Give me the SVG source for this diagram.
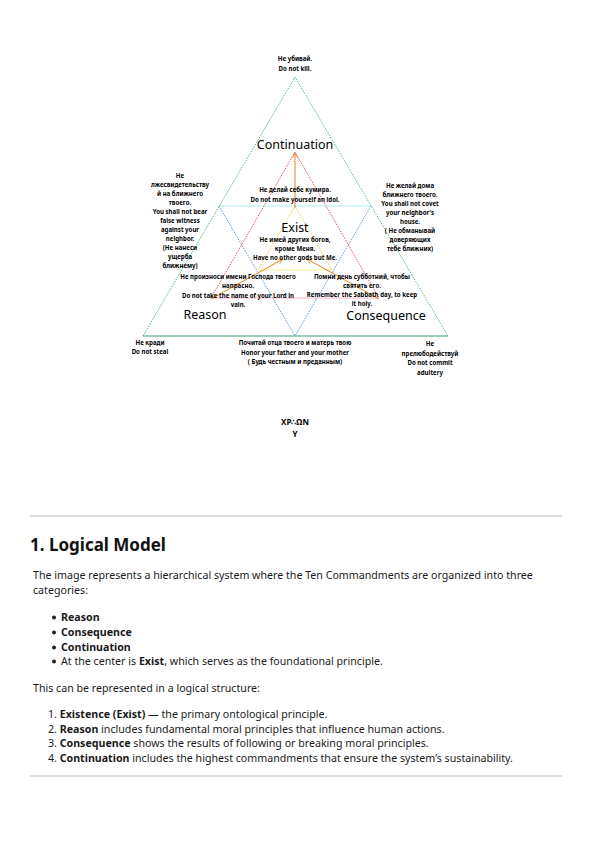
<svg xmlns="http://www.w3.org/2000/svg" width="595" height="842" viewBox="0 0 595 842">
<style>
.c{font-family:"Noto Sans","Open Sans",sans-serif;font-weight:bold;font-size:6.1px;fill:#000;text-anchor:middle}
.lab{font-family:"Noto Sans","Open Sans",sans-serif;font-size:12.5px;fill:#000;text-anchor:middle}
.doc{font-family:"Noto Sans","Open Sans",sans-serif;font-size:10.65px;fill:#1a1a1a}
.b{font-weight:bold}
.dot{fill:none;stroke-width:0.9;stroke-dasharray:1.5 1.2}
.arr{fill:none;stroke:#e8801e;stroke-width:1}
</style>
<defs>
<marker id="ah" viewBox="0 0 10 10" refX="9" refY="5" markerWidth="6" markerHeight="6" orient="auto-start-reverse" markerUnits="userSpaceOnUse">
<path d="M1,1 L9,5 L1,9" fill="none" stroke="#e8801e" stroke-width="1.2"/>
</marker>
</defs>
<rect width="595" height="842" fill="#fff"/>
<g id="connectors">
<path class="dot" stroke="#3db37a" d="M143,336 L295,77 L448,336"/>
<path fill="none" stroke="#3a9a6a" stroke-width="1" d="M143,336 L448,336"/>
<path fill="none" stroke="#a8eef0" stroke-width="1" d="M219,206 L371,206"/>
<path class="dot" stroke="#4a88d0" d="M219,206 L295,336 L371,206"/>
<path class="dot" stroke="#e84050" d="M211,298 L295,152 L379,298"/>
<path fill="none" stroke="#f8b8c8" stroke-width="1" d="M211,298 L379,298"/>
<path class="dot" stroke="#f0c830" d="M258,270 L295,206 L332,270"/>
<path fill="none" stroke="#f8ec90" stroke-width="1" d="M258,270 L332,270"/>
<path class="arr" marker-end="url(#ah)" d="M295,208 L295,153"/>
<path class="arr" marker-end="url(#ah)" d="M211,299 L283,259"/>
<path class="arr" marker-end="url(#ah)" d="M379,299 L307,259"/>
</g>
<g id="n-kill"><text class="c" x="295" y="61">Не убивай.</text><text class="c" x="295" y="71">Do not kill.</text></g>
<g id="n-continuation"><text class="lab" x="295" y="149">Continuation</text></g>
<g id="n-witness">
<text class="c" x="180" y="178">Не</text>
<text class="c" x="180" y="187">лжесвидетельству</text>
<text class="c" x="180" y="196">й на ближнего</text>
<text class="c" x="180" y="205">твоего.</text>
<text class="c" x="180" y="214">You shall not bear</text>
<text class="c" x="180" y="223">false witness</text>
<text class="c" x="180" y="232">against your</text>
<text class="c" x="180" y="241">neighbor.</text>
<text class="c" x="180" y="250">(Не нанеси</text>
<text class="c" x="180" y="259">ущерба</text>
<text class="c" x="180" y="268">ближнему)</text>
</g>
<g id="n-covet">
<text class="c" x="410" y="188">Не желай дома</text>
<text class="c" x="410" y="197">ближнего твоего.</text>
<text class="c" x="410" y="206">You shall not covet</text>
<text class="c" x="410" y="215">your neighbor's</text>
<text class="c" x="410" y="224">house.</text>
<text class="c" x="410" y="233">( Не обманывай</text>
<text class="c" x="410" y="242">доверяющих</text>
<text class="c" x="410" y="250.5">тебе ближних)</text>
</g>
<g id="n-idol"><text class="c" x="295" y="192">Не делай себе кумира.</text><text class="c" x="295" y="202">Do not make yourself an idol.</text></g>
<g id="n-exist"><text class="lab" x="295" y="232">Exist</text></g>
<g id="n-gods"><text class="c" x="295" y="242">Не имей других богов,</text><text class="c" x="295" y="251">кроме Меня.</text><text class="c" x="295" y="260">Have no other gods but Me.</text></g>
<g id="n-name"><text class="c" x="238" y="279">Не произноси имени Господа твоего</text><text class="c" x="238" y="288">напрасно.</text><text class="c" x="238" y="297.5">Do not take the name of your Lord in</text><text class="c" x="238" y="307">vain.</text></g>
<g id="n-sabbath"><text class="c" x="362" y="278.5">Помни день субботний, чтобы</text><text class="c" x="362" y="287.5">святить его.</text><text class="c" x="362" y="296.5">Remember the Sabbath day, to keep</text><text class="c" x="362" y="305.5">it holy.</text></g>
<g id="n-reason"><text class="lab" x="205" y="319">Reason</text></g>
<g id="n-consequence"><text class="lab" x="386" y="319.5">Consequence</text></g>
<g id="n-steal"><text class="c" x="150" y="345">Не кради</text><text class="c" x="150" y="354">Do not steal</text></g>
<g id="n-honor"><text class="c" x="295" y="345">Почитай отца твоего и матерь твою</text><text class="c" x="295" y="355">Honor your father and your mother</text><text class="c" x="295" y="364">( Будь честным и преданным)</text></g>
<g id="n-adultery"><text class="c" x="430" y="346">Не</text><text class="c" x="430" y="356">прелюбодействуй</text><text class="c" x="430" y="365">Do not commit</text><text class="c" x="430" y="375">adultery</text></g>
<g id="n-xp"><text class="c" x="295" y="425" style="font-size:8px">XP∴ΩN</text><text class="c" x="295" y="437" style="font-size:8px">Y</text></g>
<g id="doc">
<line x1="30" y1="516" x2="562" y2="516" stroke="#bbb" stroke-width="1"/>
<text class="doc b" x="30" y="551" style="font-size:17px;fill:#111">1. Logical Model</text>
<text class="doc" x="33" y="579">The image represents a hierarchical system where the Ten Commandments are organized into three</text>
<text class="doc" x="33" y="594">categories:</text>
<circle cx="54" cy="617.5" r="2" fill="#222"/><text class="doc b" x="61" y="621">Reason</text>
<circle cx="54" cy="632.5" r="2" fill="#222"/><text class="doc b" x="61" y="636">Consequence</text>
<circle cx="54" cy="647.5" r="2" fill="#222"/><text class="doc b" x="61" y="651">Continuation</text>
<circle cx="54" cy="661.5" r="2" fill="#222"/><text class="doc" x="61" y="665">At the center is <tspan class="b">Exist</tspan>, which serves as the foundational principle.</text>
<text class="doc" x="33" y="692">This can be represented in a logical structure:</text>
<text class="doc" x="48" y="718">1. <tspan class="b">Existence (Exist)</tspan> — the primary ontological principle.</text>
<text class="doc" x="48" y="733">2. <tspan class="b">Reason</tspan> includes fundamental moral principles that influence human actions.</text>
<text class="doc" x="48" y="747">3. <tspan class="b">Consequence</tspan> shows the results of following or breaking moral principles.</text>
<text class="doc" x="48" y="762">4. <tspan class="b">Continuation</tspan> includes the highest commandments that ensure the system’s sustainability.</text>
<line x1="30" y1="776" x2="562" y2="776" stroke="#bbb" stroke-width="1"/>
</g>
</svg>
